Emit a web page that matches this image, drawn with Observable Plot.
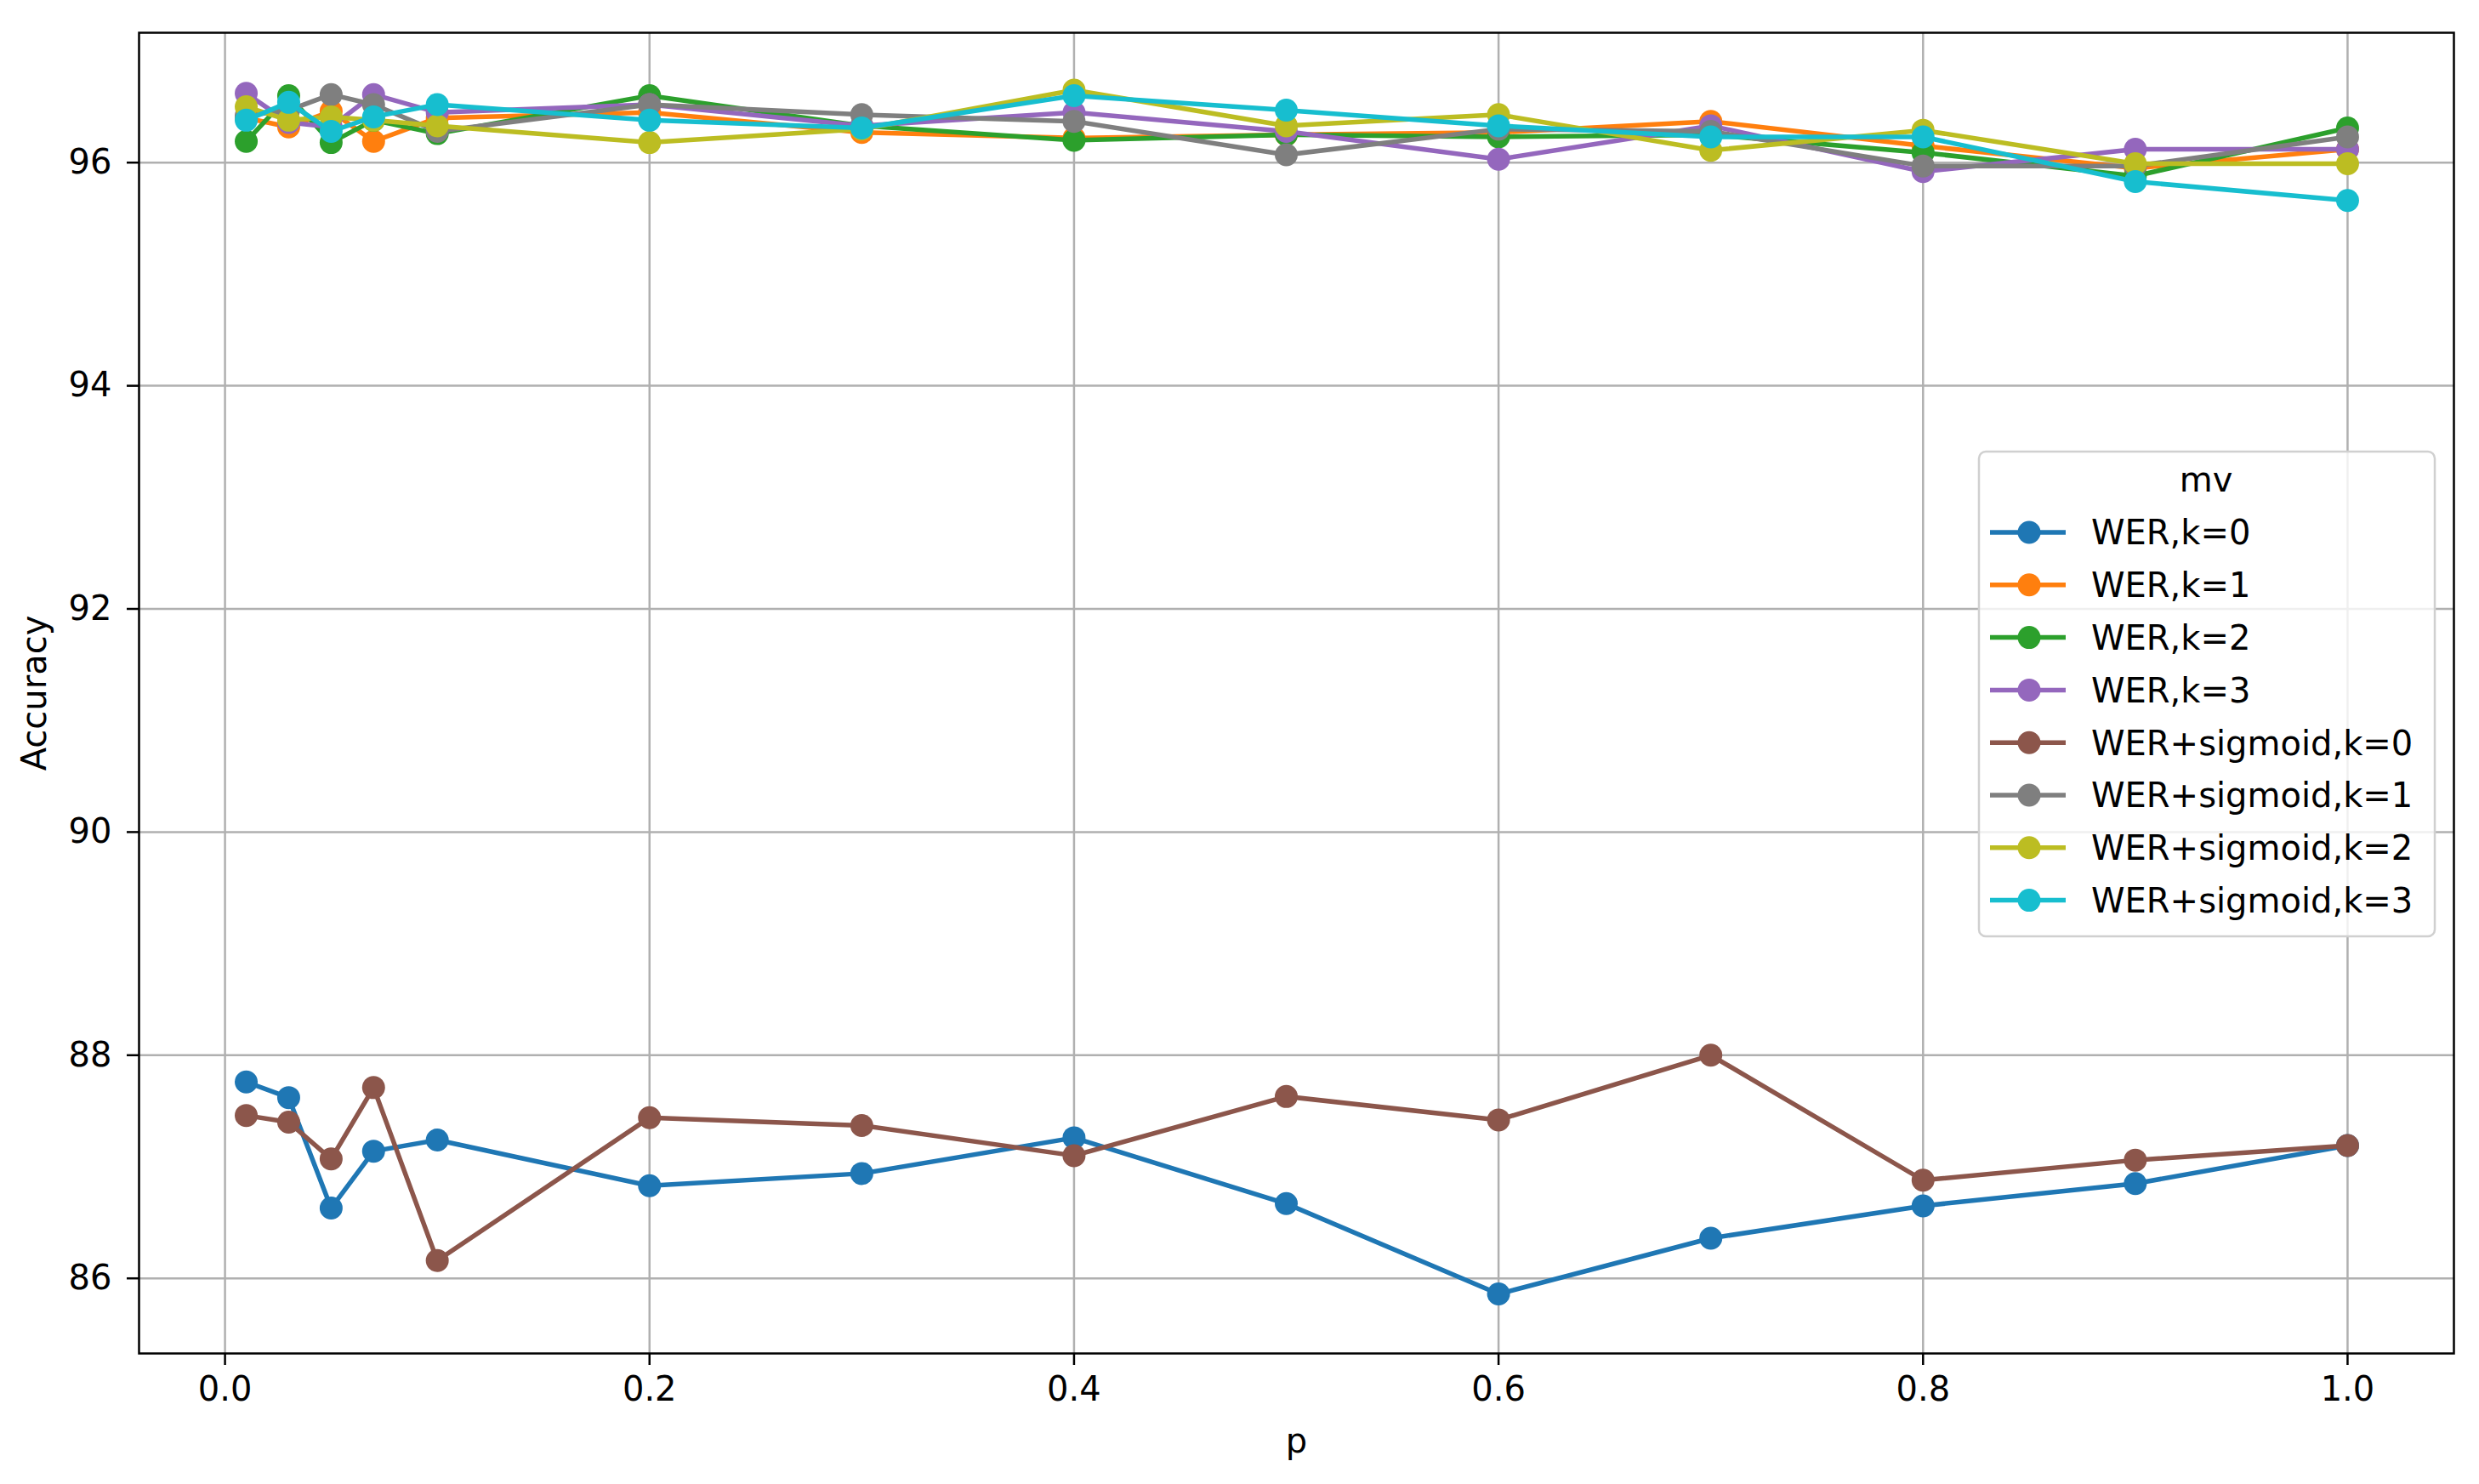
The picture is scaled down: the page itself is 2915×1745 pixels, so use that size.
<!DOCTYPE html>
<html>
<head>
<meta charset="utf-8">
<script src="https://cdn.jsdelivr.net/npm/d3@7"></script>
<script src="https://cdn.jsdelivr.net/npm/@observablehq/plot@0.6"></script>
<style>
  html, body { margin: 0; padding: 0; background: #fff; }
  #chart { width: 2915px; height: 1745px; }
</style>
</head>
<body>
<div id="chart"></div>
<script>
// ---- data ----
const pValues = [0.01, 0.03, 0.05, 0.07, 0.1, 0.2, 0.3, 0.4, 0.5, 0.6, 0.7, 0.8, 0.9, 1.0];
const seriesNames = ["WER,k=0", "WER,k=1", "WER,k=2", "WER,k=3",
  "WER+sigmoid,k=0", "WER+sigmoid,k=1", "WER+sigmoid,k=2", "WER+sigmoid,k=3"];
const seriesColors = ["#1f77b4", "#ff7f0e", "#2ca02c", "#9467bd", "#8c564b", "#7f7f7f", "#bcbd22", "#17becf"];
const werK0 = [87.76, 87.62, 86.63, 87.14, 87.24, 86.83, 86.94, 87.26, 86.67, 85.86, 86.36, 86.65, 86.85, 87.19];
const werK1 = [96.40, 96.32, 96.46, 96.19, 96.40, 96.45, 96.27, 96.22, 96.25, 96.27, 96.37, 96.15, 95.95, 96.12];
const werK2 = [96.19, 96.60, 96.18, 96.38, 96.26, 96.60, 96.33, 96.20, 96.25, 96.23, 96.25, 96.09, 95.88, 96.31];
const werK3 = [96.62, 96.36, 96.32, 96.61, 96.45, 96.52, 96.33, 96.45, 96.28, 96.03, 96.33, 95.92, 96.12, 96.12];
const sigK0 = [87.46, 87.40, 87.07, 87.71, 86.16, 87.44, 87.37, 87.10, 87.63, 87.42, 88.00, 86.88, 87.06, 87.19];
const sigK1 = [96.42, 96.47, 96.61, 96.52, 96.28, 96.52, 96.43, 96.37, 96.07, 96.30, 96.28, 95.97, 95.97, 96.23];
const sigK2 = [96.50, 96.38, 96.41, 96.38, 96.33, 96.18, 96.30, 96.65, 96.33, 96.43, 96.11, 96.29, 95.99, 95.99];
const sigK3 = [96.38, 96.54, 96.28, 96.41, 96.52, 96.38, 96.31, 96.60, 96.47, 96.33, 96.23, 96.23, 95.83, 95.66];
const xTicks = [0, 0.2, 0.4, 0.6, 0.8, 1.0];
const yTicks = [86, 88, 90, 92, 94, 96];
const xLabel = "p";
const yLabel = "Accuracy";
const legendTitle = "mv";

// ---- build ----
const seriesValues = [werK0, werK1, werK2, werK3, sigK0, sigK1, sigK2, sigK3];
const series = seriesNames.map((name, k) => ({
  name,
  color: seriesColors[k],
  rows: pValues.map((p, i) => ({ p, acc: seriesValues[k][i], name }))
}));

const FONT = "DejaVu Sans, Liberation Sans, sans-serif";
const LW = 5.5, R = 13.5;

const seriesMarks = series.flatMap(s => [
  Plot.line(s.rows, { x: "p", y: "acc", stroke: s.color, strokeWidth: LW }),
  Plot.dot(s.rows, { x: "p", y: "acc", r: R, fill: s.color, stroke: "none" })
]);

const chart = Plot.plot({
  width: 2915,
  height: 1745,
  marginLeft: 163,
  marginRight: 30,
  marginTop: 38,
  marginBottom: 154,
  style: { fontFamily: FONT, fontSize: "40px", background: "#fff", color: "#000" },
  x: { domain: [-0.0405, 1.0501] },
  y: { domain: [85.327, 97.164] },
  marks: [
    Plot.gridX(xTicks, { stroke: "#b0b0b0", strokeOpacity: 1, strokeWidth: 2.5 }),
    Plot.gridY(yTicks, { stroke: "#b0b0b0", strokeOpacity: 1, strokeWidth: 2.5 }),
    ...seriesMarks,
    Plot.frame({ stroke: "#000", strokeWidth: 2.5 }),
    Plot.axisX({ ticks: xTicks, tickFormat: d => d.toFixed(1), tickSize: 14, tickPadding: 13,
      strokeWidth: 2.5, fontSize: 40, label: null }),
    Plot.axisY({ ticks: yTicks, tickFormat: d => String(d), tickSize: 14, tickPadding: 18,
      strokeWidth: 2.5, fontSize: 40, label: null }),
    Plot.text([xLabel], { text: d => d, frameAnchor: "bottom", dy: 116, lineAnchor: "bottom",
      fontSize: 40, fill: "#000" }),
    Plot.text([yLabel], { text: d => d, frameAnchor: "left", dx: -138, rotate: -90,
      lineAnchor: "top", textAnchor: "middle", fontSize: 40, fill: "#000" })
  ]
});

document.getElementById("chart").appendChild(chart);

// ---- legend (inside the axes, like matplotlib) ----
const svg = d3.select(chart);
const lg = svg.append("g").attr("font-family", FONT).attr("font-size", 40)
  .attr("text-anchor", "start");
const box = { x: 2327, y: 531, w: 536, h: 570 };
lg.append("rect")
  .attr("x", box.x).attr("y", box.y).attr("width", box.w).attr("height", box.h)
  .attr("rx", 8).attr("fill", "#fff").attr("fill-opacity", 0.8)
  .attr("stroke", "#d0d0d0").attr("stroke-width", 2.5);
lg.append("text")
  .attr("x", 2594).attr("y", 578).attr("text-anchor", "middle").attr("fill", "#000")
  .text(legendTitle);
series.forEach((s, i) => {
  const cy = 626 + i * 61.8;
  lg.append("line").attr("x1", 2340).attr("x2", 2429).attr("y1", cy).attr("y2", cy)
    .attr("stroke", s.color).attr("stroke-width", LW);
  lg.append("circle").attr("cx", 2386).attr("cy", cy).attr("r", R).attr("fill", s.color);
  lg.append("text").attr("x", 2459).attr("y", cy).attr("dy", "0.36em").attr("fill", "#000")
    .attr("text-anchor", "start").text(s.name);
});
</script>
</body>
</html>
